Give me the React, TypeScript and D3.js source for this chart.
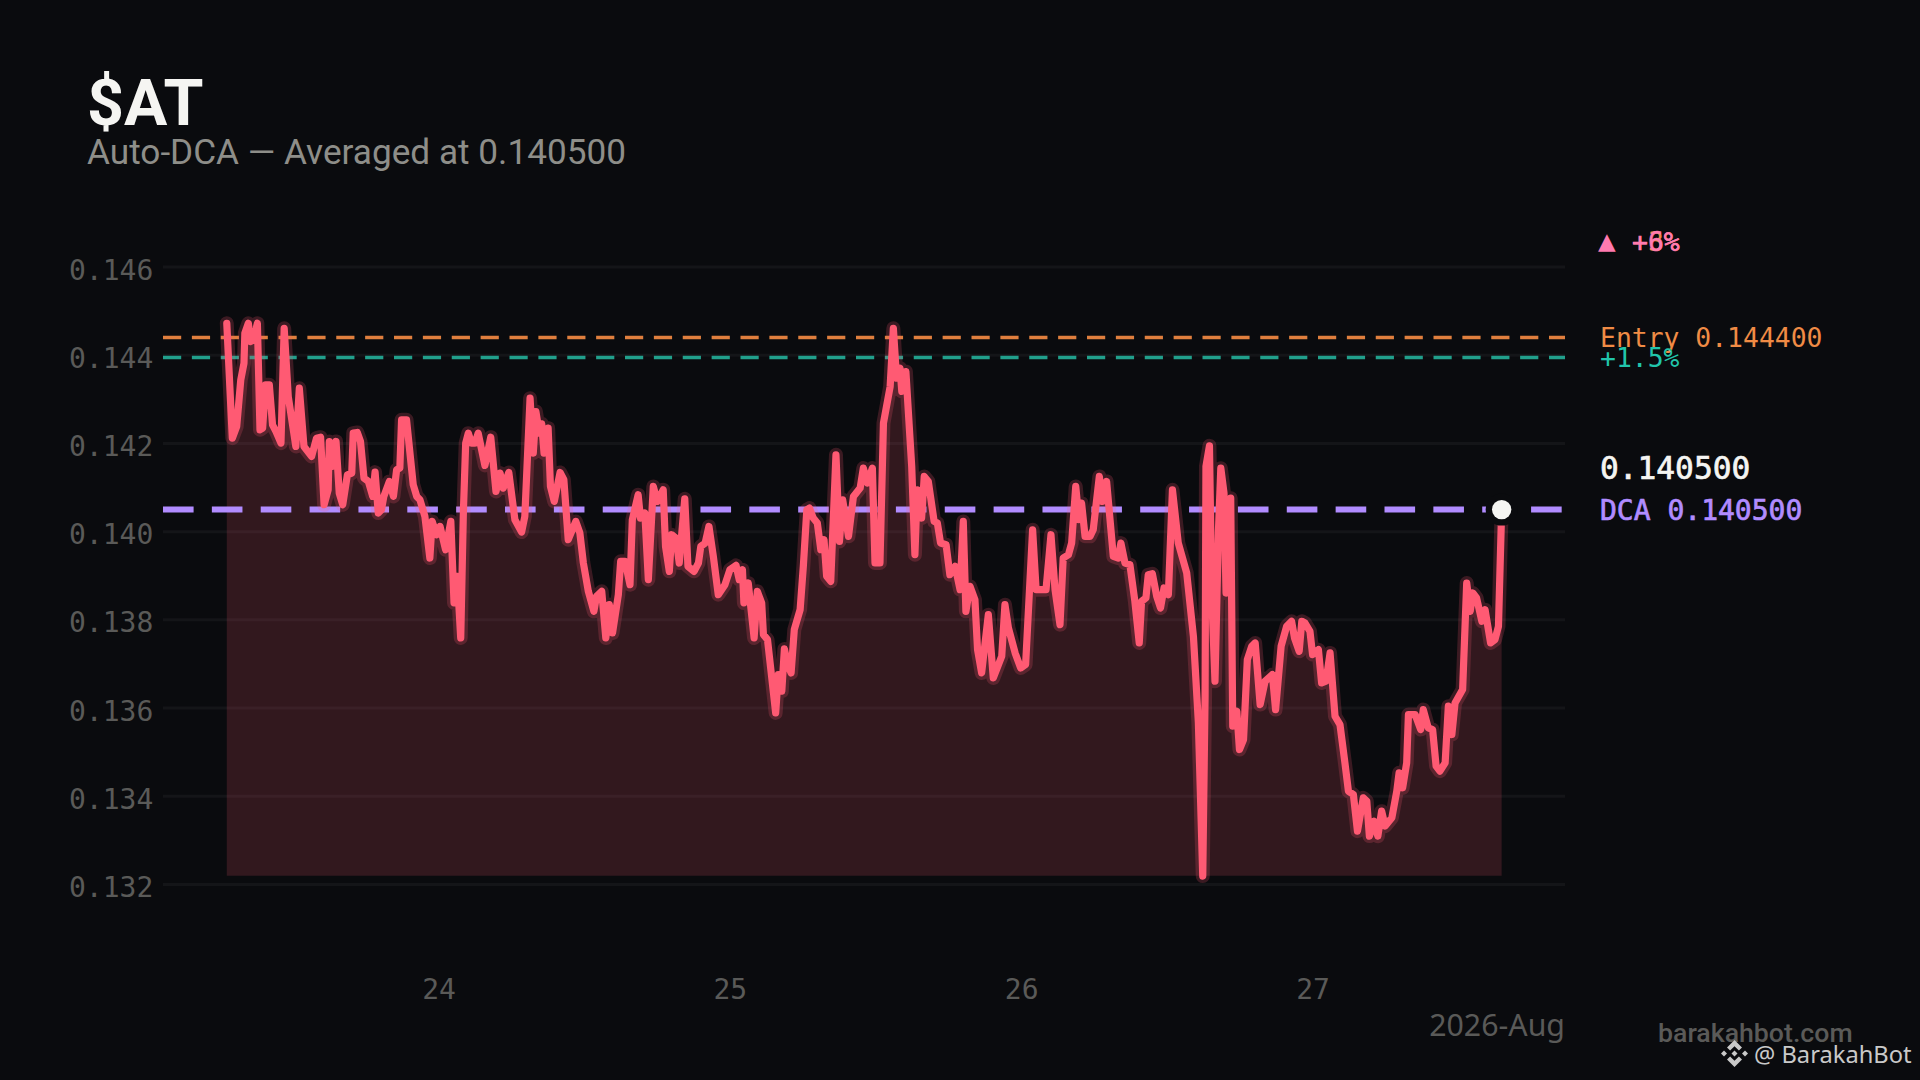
import * as d3 from "d3";

// chart values
const dayTicks = [24, 25, 26, 27];
const priceTicks = [0.132, 0.134, 0.136, 0.138, 0.14, 0.142, 0.144, 0.146];

const entryPrice = 0.1444;
const targetPrice = 0.14395;
const dcaPrice = 0.1405;
const lastPrice = 0.1405;
const floorPrice = 0.1322;

const times = [
	23.275, 23.294, 23.309, 23.323, 23.334, 23.337, 23.349, 23.357, 23.366, 23.38, 23.389, 23.398, 23.408, 23.421, 23.432, 23.444, 23.461, 23.472, 23.486, 23.512,
	23.524, 23.54, 23.566, 23.583, 23.597, 23.609, 23.623, 23.627, 23.638, 23.65, 23.661, 23.673, 23.689, 23.704, 23.709, 23.723, 23.734, 23.746, 23.761, 23.776,
	23.784, 23.795, 23.806, 23.814, 23.833, 23.847, 23.858, 23.869, 23.875, 23.892, 23.915, 23.927, 23.938, 23.955, 23.972, 23.98, 23.995, 24.007, 24.026, 24.044,
	24.055, 24.066, 24.078, 24.087, 24.095, 24.104, 24.115, 24.127, 24.138, 24.161, 24.181, 24.199, 24.213, 24.224, 24.243, 24.264, 24.287, 24.298, 24.316, 24.327,
	24.336, 24.348, 24.356, 24.364, 24.378, 24.386, 24.399, 24.419, 24.432, 24.447, 24.473, 24.487, 24.499, 24.516, 24.535, 24.544, 24.562, 24.576, 24.588, 24.599,
	24.619, 24.627, 24.642, 24.659, 24.667, 24.687, 24.695, 24.71, 24.722, 24.739, 24.753, 24.773, 24.781, 24.794, 24.802, 24.817, 24.828,
	24.847, 24.858, 24.879, 24.894, 24.902, 24.917, 24.93, 24.945, 24.962, 24.985, 25.002, 25.023, 25.034, 25.045, 25.05, 25.065, 25.085, 25.096, 25.111, 25.117,
	25.131, 25.145, 25.159, 25.168, 25.18, 25.189, 25.199, 25.212, 25.223, 25.243, 25.254, 25.266, 25.275, 25.288, 25.302, 25.314, 25.325, 25.334, 25.348, 25.366,
	25.378, 25.389, 25.409, 25.426, 25.449, 25.46, 25.474, 25.491, 25.5, 25.517, 25.529, 25.552, 25.563, 25.574, 25.586, 25.592, 25.606, 25.626, 25.637, 25.645,
	25.66, 25.669, 25.683, 25.703, 25.714, 25.725, 25.744, 25.757, 25.775, 25.792, 25.803, 25.812, 25.826, 25.843, 25.852, 25.866, 25.889, 25.906, 25.935, 25.946,
	25.958, 25.981, 26.0, 26.017, 26.041, 26.053, 26.087, 26.104, 26.118, 26.135, 26.146, 26.164, 26.175, 26.189, 26.2, 26.209, 26.221, 26.238, 26.249, 26.27,
	26.281, 26.295, 26.318, 26.335, 26.344, 26.358, 26.375, 26.392, 26.407, 26.415, 26.43, 26.438, 26.452, 26.467, 26.48, 26.492, 26.507,
	26.521, 26.541, 26.57, 26.593, 26.61, 26.625, 26.633, 26.636, 26.648, 26.656, 26.667, 26.679, 26.687, 26.698, 26.705, 26.721, 26.728, 26.742, 26.751, 26.765,
	26.778, 26.793, 26.805, 26.822, 26.839, 26.864, 26.875, 26.894, 26.913, 26.93, 26.94, 26.956, 26.965, 26.976, 26.993, 27.002, 27.022, 27.033, 27.048, 27.062,
	27.079, 27.096, 27.113, 27.125, 27.142, 27.156, 27.176, 27.188, 27.197, 27.213, 27.226, 27.239, 27.251, 27.274, 27.291, 27.299, 27.311, 27.325, 27.331, 27.354,
	27.373, 27.382, 27.399, 27.414, 27.426, 27.439, 27.457, 27.468, 27.48, 27.491, 27.517, 27.531, 27.543, 27.552, 27.565, 27.583, 27.594, 27.613, 27.628, 27.64, 27.651,
];

const prices = [
	0.144724, 0.14212, 0.142384, 0.143441, 0.143819, 0.144498, 0.144724, 0.144309, 0.144347, 0.144724, 0.142309, 0.142346, 0.143328, 0.143328, 0.142422, 0.142271, 0.142007, 0.144611, 0.143063, 0.141931,
	0.143252, 0.141931, 0.141705, 0.14212, 0.142142, 0.14061, 0.14095, 0.142044, 0.141478, 0.142044, 0.140874, 0.14061, 0.141289, 0.141327, 0.142233, 0.142248, 0.142044, 0.141214, 0.141138, 0.140799,
	0.14135, 0.140421, 0.140497, 0.140799, 0.141138, 0.140799, 0.141403, 0.14144, 0.142535, 0.142535, 0.141063, 0.140799, 0.140723, 0.140346, 0.139402, 0.140232, 0.13993, 0.140119, 0.13959, 0.140232,
	0.138383, 0.138987, 0.13759, 0.140421, 0.142007, 0.142233, 0.142007, 0.142007, 0.142233, 0.141501, 0.142142, 0.140912, 0.141327, 0.140987, 0.141342, 0.14027, 0.139991, 0.140346, 0.143026, 0.14178,
	0.142724, 0.142233, 0.142444, 0.14178, 0.142346, 0.141025, 0.140685, 0.141342, 0.141176, 0.139817, 0.140232, 0.139968, 0.139289, 0.138647, 0.138194, 0.138534, 0.138647, 0.13759, 0.138345, 0.137703,
	0.138571, 0.139326, 0.139326, 0.138798, 0.14027, 0.140836, 0.140308, 0.140421, 0.138911, 0.141025, 0.140685, 0.14095, 0.139666, 0.1391, 0.13993, 0.139855, 0.139289,
	0.140746, 0.139213, 0.1391, 0.139289, 0.139666, 0.139742, 0.140119, 0.13944, 0.138571, 0.138798, 0.139137, 0.139236, 0.138911, 0.139137, 0.138383, 0.138835, 0.13759, 0.138647, 0.138383, 0.137665,
	0.137552, 0.136722, 0.135891, 0.136759, 0.136382, 0.137341, 0.137024, 0.136797, 0.137779, 0.138232, 0.139213, 0.140497, 0.140534, 0.140308, 0.140195, 0.13959, 0.139817, 0.138987, 0.138873, 0.141742,
	0.139779, 0.140723, 0.139893, 0.140799, 0.140987, 0.14144, 0.141101, 0.14144, 0.139289, 0.139289, 0.14246, 0.14329, 0.144611, 0.143479, 0.143705, 0.143177, 0.14363, 0.141478, 0.139477, 0.14095,
	0.140308, 0.141252, 0.141138, 0.140232, 0.140195, 0.139742, 0.139704, 0.139024, 0.139213, 0.138685, 0.140232, 0.138194, 0.13876, 0.138458, 0.137326, 0.136797, 0.138118, 0.136684, 0.137175, 0.138345,
	0.137816, 0.13725, 0.13691, 0.136986, 0.140043, 0.138685, 0.138685, 0.13993, 0.138685, 0.137892, 0.139402, 0.139477, 0.139742, 0.141025, 0.14027, 0.140648, 0.139893, 0.139893, 0.140043, 0.141252,
	0.140685, 0.141138, 0.13944, 0.139402, 0.139742, 0.139289, 0.139251, 0.13842, 0.137477, 0.13842, 0.138496, 0.139024, 0.139047, 0.138534, 0.138269, 0.138722, 0.138571,
	0.140949, 0.139741, 0.139062, 0.137627, 0.135664, 0.132191, 0.136268, 0.141478, 0.141946, 0.138533, 0.136608, 0.140043, 0.14144, 0.140874, 0.138608, 0.14076, 0.135589, 0.135928, 0.13506, 0.135287,
	0.137098, 0.1374, 0.137476, 0.136079, 0.136608, 0.136759, 0.135966, 0.1374, 0.137854, 0.137967, 0.137589, 0.137287, 0.137967, 0.137929, 0.13774, 0.137212, 0.137325, 0.13657, 0.136608, 0.13725,
	0.135815, 0.135626, 0.134758, 0.134116, 0.134041, 0.13321, 0.133965, 0.13389, 0.133097, 0.133437, 0.133097, 0.133663, 0.133324, 0.133512, 0.134116, 0.134532, 0.134192, 0.134758, 0.135853, 0.135853,
	0.135513, 0.135966, 0.135551, 0.135513, 0.134683, 0.134569, 0.134758, 0.136042, 0.1354, 0.136117, 0.136419, 0.138835, 0.138193, 0.138609, 0.138495, 0.137967, 0.138231, 0.137476, 0.137552, 0.137854, 0.1405,
];

const mono = "'DejaVu Sans Mono', monospace";
const sans = "Roboto, sans-serif";
const noto = "'Noto Sans', sans-serif";

const bg = "#0a0b0e";
const lineColor = "#ff5a73";

const x = d3.scaleLinear().domain([24, 27]).range([438, 1312]);
const y = d3.scaleLinear().domain([0.132, 0.146]).range([884.5, 267]);

const gridLeft = 163;
const gridRight = 1565;
const labelX = 1600;

const series = times.map((t, i) => ({ t, p: prices[i] }));

const line = d3
	.line<{ t: number; p: number }>()
	.x((d) => x(d.t))
	.y((d) => y(d.p));

const area = d3
	.area<{ t: number; p: number }>()
	.x((d) => x(d.t))
	.y0(y(floorPrice))
	.y1((d) => y(d.p));

export default function App() {
	const lastT = times[times.length - 1];

	return (
		<svg
			width={1920}
			height={1080}
			viewBox="0 0 1920 1080"
			style={{ position: "fixed", left: 0, top: 0, background: bg }}
		>
			<rect width={1920} height={1080} fill={bg} />

			<text x={87} y={125} fill="#f5f5f2" fontFamily={sans} fontWeight={700} fontSize={64.5}>
				$AT
			</text>
			<text x={87} y={164} fill="#8e8e89" fontFamily={sans} fontSize={35.2}>
				Auto-DCA — Averaged at 0.140500
			</text>

			{priceTicks.map((t) => (
				<g key={t}>
					<line x1={gridLeft} x2={gridRight} y1={y(t)} y2={y(t)} stroke="#141518" strokeWidth={3} />
					<text x={69} y={y(t) + 12.5} fill="#5a5a58" fontFamily={mono} fontSize={28}>
						{t.toFixed(3)}
					</text>
				</g>
			))}

			{dayTicks.map((t) => (
				<text key={t} x={x(t) + 1} y={999} textAnchor="middle" fill="#5a5a58" fontFamily={mono} fontSize={28}>
					{t}
				</text>
			))}

			<path d={area(series) ?? ""} fill={lineColor} fillOpacity={0.165} />

			<line x1={gridLeft} x2={gridRight} y1={y(entryPrice)} y2={y(entryPrice)} stroke="#e07f3e" strokeWidth={3.5} strokeDasharray="18.2 10.675" />
			<line x1={gridLeft} x2={gridRight} y1={y(targetPrice)} y2={y(targetPrice)} stroke="#21a08c" strokeWidth={3.5} strokeDasharray="18.2 10.675" />
			<line x1={gridLeft} x2={gridRight} y1={y(dcaPrice)} y2={y(dcaPrice)} stroke="#b18cff" strokeWidth={6} strokeDasharray="30.6 18.26" />

			<path d={line(series) ?? ""} fill="none" stroke={lineColor} strokeOpacity={0.2} strokeWidth={14} strokeLinejoin="round" strokeLinecap="round" />
			<path d={line(series) ?? ""} fill="none" stroke={lineColor} strokeWidth={7.2} strokeLinejoin="round" strokeLinecap="round" />

			<circle cx={x(lastT)} cy={y(lastPrice)} r={16} fill={bg} />
			<circle cx={x(lastT)} cy={y(lastPrice)} r={9.7} fill="#f5f5f2" />

			<text x={1598} y={249} fill="#ff7ab0" fontFamily="'DejaVu Sans', sans-serif" fontSize={23}>
				▲
			</text>
			<text x={1632} y={251} fill="#f08b45" fontFamily={mono} fontSize={26.4}>
				+3%
			</text>
			<text x={1632} y={251} fill="#ff7ab0" stroke="#ff7ab0" strokeWidth={0.6} fontFamily={mono} fontSize={26.4}>
				+6%
			</text>
			<text x={labelX} y={347} fill="#f08b45" fontFamily={mono} fontSize={26.4}>
				Entry 0.144400
			</text>
			<text x={labelX} y={367} fill="#21c5ab" fontFamily={mono} fontSize={26.4}>
				+1.5%
			</text>
			<text x={labelX} y={479} fill="#f5f5f2" stroke="#f5f5f2" strokeWidth={0.7} fontFamily={mono} fontSize={31.2}>
				0.140500
			</text>
			<text x={labelX} y={520} fill="#b18cff" stroke="#b18cff" strokeWidth={0.7} fontFamily={mono} fontSize={28}>
				DCA 0.140500
			</text>

			<text x={1565} y={1036} textAnchor="end" fill="#5a5a58" fontFamily={noto} fontSize={30.3}>
				2026-Aug
			</text>
			<text x={1658} y={1042} fill="#5a5a58" fontFamily={sans} fontWeight={500} fontSize={26.7}>
				barakahbot.com
			</text>
			<g fill="#c9c9c9" transform="translate(1734.5,1053.5)">
				<polygon points="0,-13.5 7.5,-6 4.4,-2.9 0,-7.3 -4.4,-2.9 -7.5,-6" />
				<polygon points="0,13.5 7.5,6 4.4,2.9 0,7.3 -4.4,2.9 -7.5,6" />
				<polygon points="-10.5,-3 -7.5,0 -10.5,3 -13.5,0" />
				<polygon points="10.5,-3 13.5,0 10.5,3 7.5,0" />
				<polygon points="0,-3 3,0 0,3 -3,0" />
			</g>
			<text x={1754} y={1063} fill="#c9c9c9" fontFamily={noto} fontSize={23.7}>
				@ BarakahBot
			</text>
		</svg>
	);
}
